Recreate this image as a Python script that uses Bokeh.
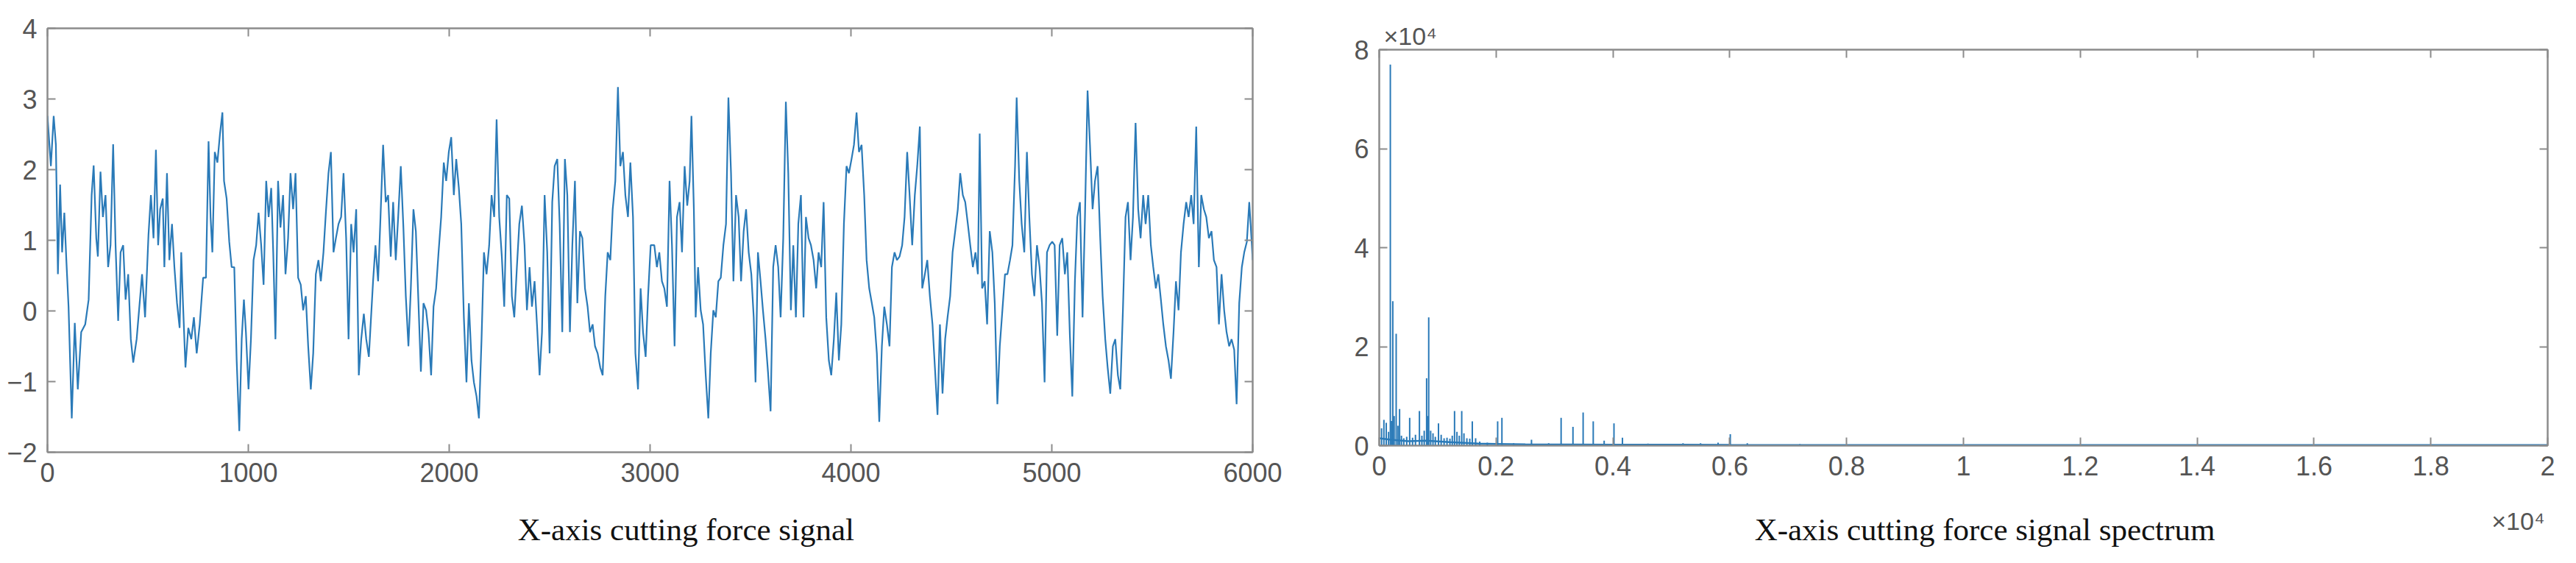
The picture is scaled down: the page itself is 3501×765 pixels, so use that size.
from bokeh.plotting import figure
from bokeh.models import LinearAxis, FixedTicker, Range1d, Title, Label
from bokeh.layouts import row, column
from bokeh.embed import file_html
from bokeh.resources import INLINE

# ---------------- data: X-axis cutting force signal ----------------
sample_index = [
    0, 17, 31, 42, 52, 63, 73, 84, 94, 105,
    121, 136, 151, 168, 188, 205, 220, 230, 243, 251,
    264, 276, 289, 302, 314, 327, 339, 352, 364, 377,
    389, 402, 415, 427, 444, 456, 471, 486, 503, 515,
    528, 540, 551, 561, 574, 582, 595, 607, 620, 632,
    645, 658, 666, 674, 687, 701, 716, 729, 743, 758,
    775, 789, 802, 812, 821, 833, 846, 859, 871, 879,
    892, 905, 917, 930, 942, 955, 967, 978, 988, 1001,
    1013, 1026, 1039, 1051, 1064, 1076, 1089, 1101, 1114, 1124,
    1135, 1148, 1160, 1173, 1185, 1198, 1210, 1223, 1235, 1248,
    1261, 1273, 1286, 1298, 1311, 1323, 1336, 1349, 1361, 1374,
    1386, 1399, 1411, 1424, 1436, 1449, 1462, 1474, 1487, 1499,
    1512, 1524, 1537, 1550, 1562, 1575, 1587, 1600, 1608, 1621,
    1633, 1646, 1658, 1671, 1684, 1696, 1709, 1721, 1734, 1746,
    1759, 1772, 1784, 1797, 1809, 1822, 1834, 1847, 1859, 1872,
    1885, 1897, 1910, 1922, 1935, 1947, 1960, 1973, 1985, 1998,
    2010, 2023, 2035, 2048, 2060, 2073, 2086, 2098, 2111, 2123,
    2136, 2148, 2161, 2173, 2186, 2199, 2211, 2224, 2236, 2249,
    2262, 2274, 2287, 2299, 2312, 2324, 2337, 2349, 2362, 2375,
    2387, 2400, 2412, 2425, 2437, 2450, 2462, 2475, 2488, 2500,
    2513, 2525, 2538, 2550, 2563, 2576, 2588, 2601, 2613, 2626,
    2638, 2651, 2663, 2676, 2689, 2701, 2714, 2726, 2739, 2752,
    2764, 2777, 2789, 2802, 2814, 2827, 2840, 2852, 2865, 2877,
    2890, 2902, 2915, 2927, 2940, 2953, 2965, 2978, 2990, 3003,
    3021, 3034, 3046, 3059, 3071, 3084, 3097, 3109, 3122, 3134,
    3147, 3159, 3172, 3185, 3197, 3206, 3218, 3227, 3239, 3252,
    3264, 3277, 3290, 3302, 3315, 3327, 3340, 3352, 3365, 3378,
    3390, 3403, 3415, 3428, 3441, 3453, 3466, 3478, 3491, 3504,
    3516, 3525, 3537, 3550, 3562, 3575, 3587, 3600, 3613, 3625,
    3638, 3650, 3663, 3676, 3688, 3701, 3713, 3726, 3738, 3751,
    3764, 3776, 3789, 3801, 3814, 3827, 3839, 3852, 3864, 3877,
    3890, 3902, 3915, 3927, 3940, 3952, 3965, 3978, 3990, 4003,
    4015, 4028, 4040, 4053, 4066, 4078, 4091, 4104, 4116, 4129,
    4141, 4154, 4166, 4179, 4192, 4204, 4217, 4229, 4242, 4255,
    4267, 4280, 4292, 4305, 4318, 4330, 4343, 4355, 4368, 4380,
    4393, 4406, 4418, 4431, 4443, 4456, 4469, 4481, 4494, 4506,
    4519, 4532, 4544, 4557, 4569, 4582, 4594, 4607, 4620, 4632,
    4641, 4653, 4666, 4678, 4691, 4704, 4716, 4729, 4741, 4754,
    4767, 4779, 4792, 4804, 4817, 4825, 4838, 4850, 4863, 4876,
    4888, 4901, 4913, 4926, 4939, 4951, 4964, 4976, 4989, 5002,
    5014, 5027, 5039, 5052, 5065, 5077, 5090, 5102, 5115, 5127,
    5140, 5153, 5165, 5178, 5190, 5203, 5215, 5228, 5241, 5253,
    5266, 5278, 5291, 5304, 5316, 5329, 5341, 5354, 5367, 5379,
    5392, 5404, 5417, 5430, 5442, 5455, 5467, 5480, 5493, 5505,
    5518, 5530, 5543, 5555, 5568, 5581, 5593, 5606, 5618, 5631,
    5643, 5656, 5669, 5681, 5694, 5706, 5719, 5732, 5744, 5757,
    5769, 5782, 5795, 5807, 5820, 5832, 5845, 5858, 5870, 5883,
    5895, 5908, 5920, 5933, 5946, 5958, 5971, 5983, 5996, 6000,
]
force_value = [
    2.76, 2.05, 2.76, 2.35, 0.52, 1.79, 0.83, 1.39, 0.72, 0.06,
    -1.52, -0.17, -1.11, -0.30, -0.19, 0.16, 1.64, 2.06, 1.03, 0.77,
    1.97, 1.33, 1.64, 0.62, 0.93, 2.36, 0.93, -0.14, 0.83, 0.93,
    0.16, 0.52, -0.40, -0.73, -0.40, 0.01, 0.52, -0.09, 1.08, 1.64,
    1.03, 2.28, 0.93, 1.44, 1.59, 0.62, 1.95, 0.72, 1.23, 0.62,
    0.11, -0.24, 0.83, 0.16, -0.80, -0.24, -0.40, -0.09, -0.60, -0.19,
    0.47, 0.47, 2.40, 1.33, 0.83, 2.25, 2.10, 2.51, 2.81, 1.84,
    1.59, 0.98, 0.62, 0.62, -0.70, -1.70, -0.40, 0.16, -0.30, -1.11,
    -0.40, 0.72, 0.93, 1.39, 0.93, 0.37, 1.84, 1.33, 1.74, 0.83,
    -0.40, 1.84, 1.18, 1.64, 0.52, 1.03, 1.95, 1.44, 1.95, 0.47,
    0.37, 0.01, 0.21, -0.50, -1.11, -0.60, 0.52, 0.72, 0.42, 0.83,
    1.39, 1.95, 2.25, 0.83, 1.03, 1.23, 1.33, 1.95, 1.03, -0.40,
    1.23, 0.83, 1.44, -0.91, -0.40, -0.04, -0.40, -0.65, -0.24, 0.42,
    0.93, 0.42, 1.33, 2.35, 1.54, 1.64, 0.77, 1.54, 0.72, 1.33,
    2.05, 1.18, 0.21, -0.50, 0.32, 1.44, 1.13, 0.11, -0.86, 0.11,
    0.01, -0.30, -0.91, 0.06, 0.32, 0.83, 1.33, 2.10, 1.84, 2.25,
    2.46, 1.64, 2.15, 1.74, 1.23, -0.09, -1.01, 0.11, -0.70, -1.01,
    -1.21, -1.52, -0.40, 0.83, 0.52, 0.93, 1.64, 1.33, 2.71, 1.33,
    0.77, 0.06, 1.64, 1.59, 0.21, -0.09, 0.62, 1.23, 1.49, 0.93,
    0.01, 0.62, 0.06, 0.42, -0.19, -0.91, -0.30, 1.64, 0.83, -0.60,
    1.54, 2.05, 2.15, 1.23, -0.30, 2.15, 1.64, -0.30, 0.93, 1.84,
    0.11, 1.13, 1.03, 0.32, 0.06, -0.30, -0.19, -0.50, -0.60, -0.80,
    -0.91, 0.21, 0.83, 0.72, 1.44, 1.84, 3.17, 2.05, 2.25, 1.64,
    1.33, 2.10, 1.33, -0.60, -1.11, 0.32, -0.30, -0.65, 0.21, 0.93,
    0.93, 0.62, 0.83, 0.42, 0.32, 0.06, 1.84, 0.93, -0.50, 1.33,
    1.54, 0.83, 2.05, 1.49, 1.84, 2.76, 1.44, -0.09, 0.62, 0.01,
    -0.19, -0.91, -1.52, -0.60, 0.01, -0.09, 0.42, 0.47, 0.93, 1.23,
    3.02, 1.95, 0.42, 1.64, 1.33, 0.42, 1.13, 1.44, 0.83, 0.52,
    -0.09, -1.01, 0.83, 0.42, 0.01, -0.40, -0.86, -1.42, 0.62, 0.93,
    0.62, -0.09, 1.03, 2.96, 1.95, 0.01, 0.93, -0.09, 1.23, 1.64,
    -0.09, 1.33, 1.03, 0.93, 0.72, 0.32, 0.83, 0.62, 1.54, -0.09,
    -0.70, -0.91, -0.40, 0.26, -0.70, -0.19, 1.23, 2.05, 1.95, 2.15,
    2.35, 2.81, 2.25, 2.35, 1.64, 0.72, 0.32, 0.11, -0.09, -0.60,
    -1.57, -0.50, 0.06, -0.19, -0.50, 0.62, 0.83, 0.72, 0.77, 0.93,
    1.33, 2.25, 1.64, 0.93, 1.64, 2.05, 2.61, 0.32, 0.52, 0.72,
    0.21, -0.19, -0.80, -1.47, -0.19, -1.17, -0.40, -0.09, 0.21, 0.83,
    1.13, 1.44, 1.95, 1.64, 1.54, 1.23, 0.93, 0.62, 0.83, 0.52,
    2.51, 0.32, 0.42, -0.19, 1.13, 0.83, 0.11, -1.32, -0.50, 0.01,
    0.52, 0.52, 0.72, 0.93, 2.05, 3.02, 1.84, 1.23, 0.83, 2.25,
    1.33, 0.52, 0.21, 0.93, 0.62, 0.11, -1.01, 0.83, 0.93, 0.98,
    0.93, -0.35, 0.93, 1.03, 0.52, 0.83, -0.35, -1.21, 0.42, 1.33,
    1.54, -0.09, 1.33, 3.12, 2.35, 1.44, 1.84, 2.05, 1.03, 0.21,
    -0.40, -0.80, -1.17, -0.50, -0.40, -0.91, -1.11, 0.01, 1.33, 1.54,
    0.72, 1.33, 2.66, 1.44, 1.03, 1.64, 1.23, 1.64, 0.93, 0.62,
    0.32, 0.52, 0.16, -0.19, -0.50, -0.70, -0.96, -0.30, 0.42, 0.01,
    0.83, 1.23, 1.54, 1.33, 1.64, 1.23, 2.61, 0.62, 1.64, 1.44,
    1.33, 1.03, 1.13, 0.72, 0.62, -0.19, 0.52, 0.01, -0.30, -0.50,
    -0.40, -0.55, -1.32, 0.11, 0.62, 0.83, 0.98, 1.54, 0.93, 0.72,
]

# ---------------- data: spectrum ----------------
spec_freq = [40, 80, 120, 160, 190, 210, 232, 255, 290, 320,
             348, 380, 420, 470, 521, 570, 620, 688, 730, 770,
             811, 830, 847, 880, 920, 960, 1014, 1060, 1110, 1160,
             1210, 1250, 1289, 1330, 1370, 1412, 1450, 1500, 1550, 1593,
             1650, 1720, 1850, 2027, 2100, 2300, 2606, 2900, 3113, 3316,
             3490, 3663, 3850, 4018, 4163, 4600, 5200, 5500, 5800, 6009,
             6300, 7200]
spec_amp = [3500, 5200, 4600, 2800, 77000, 5000, 29200, 6000, 22600, 4000,
            7400, 2000, 1500, 1800, 5600, 1600, 2200, 7000, 2000, 3000,
            13600, 6000, 25900, 3000, 2500, 1800, 4500, 2200, 1500, 1600,
            1400, 2000, 7000, 2800, 2000, 7000, 2500, 1500, 1400, 4900,
            1500, 800, 600, 4900, 5600, 500, 1200, 500, 5600, 3800,
            6700, 4900, 1000, 4500, 1600, 400, 500, 500, 600, 2300,
            500, 300]
floor_freq = [0, 200, 500, 800, 1200, 1700, 2500, 4000, 6000, 10000, 20000]
floor_amp = [1500, 1200, 900, 1000, 700, 400, 250, 200, 150, 100, 100]

# ---------------- ticks and texts ----------------
signal_xticks = [0, 1000, 2000, 3000, 4000, 5000, 6000]
signal_yticks = [-2, -1, 0, 1, 2, 3, 4]
spec_xticks = [0, 2000, 4000, 6000, 8000, 10000, 12000, 14000, 16000, 18000, 20000]
spec_xtick_labels = ["0", "0.2", "0.4", "0.6", "0.8", "1", "1.2", "1.4", "1.6", "1.8", "2"]
spec_yticks = [0, 20000, 40000, 60000, 80000]
spec_ytick_labels = ["0", "2", "4", "6", "8"]
title_signal = "X-axis cutting force signal"
title_spectrum = "X-axis cutting force signal spectrum"
exponent_text = "\u00d710\u2074"

LINE = "#2a7ab8"
AXC = "#8c8c8c"
TXT = "#555555"
SANS = "Liberation Sans"
SERIF = "Liberation Serif"
TICK_FS = "36px"
TITLE_FS = "43px"
EXP_FS = "34px"
H = 750


def style(ax, ticks, labels=True, overrides=None):
    ax.ticker = FixedTicker(ticks=ticks)
    ax.axis_line_color = AXC
    ax.axis_line_width = 2
    ax.major_tick_line_color = AXC
    ax.major_tick_line_width = 2
    ax.major_tick_in = 11
    ax.major_tick_out = 0
    ax.minor_tick_line_color = None
    if labels:
        ax.major_label_text_font = SANS
        ax.major_label_text_font_size = TICK_FS
        ax.major_label_text_color = TXT
        ax.major_label_standoff = 14
        if overrides:
            ax.major_label_overrides = overrides
    else:
        ax.major_label_text_font_size = "0px"
        ax.major_label_text_color = None
        ax.major_label_standoff = 0


def make_fig(width, xr, yr, left, right, top, bottom):
    p = figure(width=width, height=H, x_range=Range1d(*xr), y_range=Range1d(*yr),
               output_backend="svg", toolbar_location=None,
               min_border_left=left, min_border_right=right,
               min_border_top=top, min_border_bottom=bottom)
    p.grid.visible = False
    p.outline_line_color = AXC
    p.outline_line_width = 2
    p.background_fill_color = "white"
    p.border_fill_color = "white"
    return p


# ---------------- left figure: signal ----------------
p1 = make_fig(1780, (0, 6000), (-2, 4), 64, 78, 38, 136)
p1.line(sample_index, force_value, line_color=LINE, line_width=2.2)
style(p1.xaxis[0], signal_xticks)
style(p1.yaxis[0], signal_yticks)
top1 = LinearAxis()
style(top1, signal_xticks, labels=False)
p1.add_layout(top1, "above")
right1 = LinearAxis()
style(right1, signal_yticks, labels=False)
p1.add_layout(right1, "right")
p1.add_layout(Label(x=3179, y=-3.094, text=title_signal, text_font=SERIF,
                    text_font_size=TITLE_FS, text_color="#111111",
                    text_align="center", text_baseline="alphabetic"), "below")

# ---------------- right figure: spectrum ----------------
p2 = make_fig(1700, (0, 20000), (0, 80000), 94, 18, 67, 145)
p2.line(floor_freq, floor_amp, line_color=LINE, line_width=2.5)
p2.segment(x0=spec_freq, y0=[0] * len(spec_freq), x1=spec_freq, y1=spec_amp,
           line_color=LINE, line_width=2)
style(p2.xaxis[0], spec_xticks,
      overrides={t: s for t, s in zip(spec_xticks, spec_xtick_labels)})
style(p2.yaxis[0], spec_yticks,
      overrides={t: s for t, s in zip(spec_yticks, spec_ytick_labels)})
top2 = LinearAxis()
style(top2, spec_xticks, labels=False)
p2.add_layout(top2, "above")
right2 = LinearAxis()
style(right2, spec_yticks, labels=False)
p2.add_layout(right2, "right")
p2.add_layout(Title(text=exponent_text, text_font=SANS, text_font_size=EXP_FS,
                    text_font_style="normal", text_color=TXT,
                    align="left", offset=6, standoff=0), "above")
p2.add_layout(Label(x=10365, y=-16950, text=title_spectrum, text_font=SERIF,
                    text_font_size=TITLE_FS, text_color="#111111",
                    text_align="center", text_baseline="alphabetic"), "below")
p2.add_layout(Label(x=19950, y=-15170, text=exponent_text, text_font=SANS,
                    text_font_size=EXP_FS, text_color=TXT,
                    text_align="right", text_baseline="alphabetic"), "below")

layout = row(column(p1), column(p2), spacing=0)
open("out.html", "w").write(file_html(layout, INLINE))
